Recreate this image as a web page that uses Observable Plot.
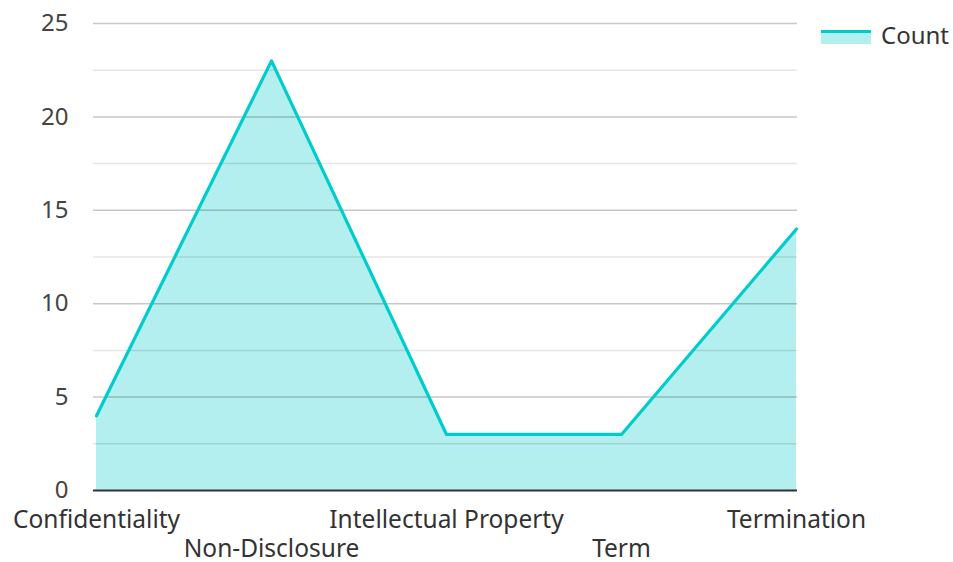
<!DOCTYPE html>
<html>
<head>
<meta charset="utf-8">
<script src="https://cdn.jsdelivr.net/npm/d3@7"></script>
<script src="https://cdn.jsdelivr.net/npm/@observablehq/plot@0.6"></script>
<style>
  html, body { margin: 0; padding: 0; background: #fff; }
  #wrap { position: relative; width: 953px; height: 562px; font-family: "Noto Sans", sans-serif; }
  #legend { position: absolute; left: 821px; top: 18px; display: flex; align-items: center; font-size: 24px; color: #333; }
  #legend .sw { width: 50px; height: 14px; background: #b2efee; border-top: 3px solid #00cccc; box-sizing: border-box; margin-right: 10px; margin-top: 4px; }
</style>
</head>
<body>
<div id="wrap">
  <div id="chart"></div>
  <div id="legend"><div class="sw"></div><span>Count</span></div>
</div>
<script>
const categories = ["Confidentiality", "Non-Disclosure", "Intellectual Property", "Term", "Termination"];
const counts = [4, 23, 3, 3, 14];
const yTicks = [0, 5, 10, 15, 20, 25];
const yMinorTicks = [2.5, 7.5, 12.5, 17.5, 22.5];

const data = categories.map((c, i) => ({category: c, count: counts[i]}));
const evenCats = categories.filter((d, i) => i % 2 === 0);
const oddCats = categories.filter((d, i) => i % 2 === 1);

const chart = Plot.plot({
  width: 953,
  height: 562,
  marginLeft: 95,
  marginRight: 157,
  marginTop: 23,
  marginBottom: 72,
  style: {fontFamily: "Noto Sans, sans-serif", fontSize: "24px", color: "#444", background: "#fff", overflow: "visible"},
  x: {type: "point", domain: categories, padding: 0},
  y: {domain: [0, 25]},
  marks: [
    Plot.areaY(data, {x: "category", y: "count", fill: "#b2efee"}),
    Plot.ruleY(yMinorTicks, {stroke: "#000", strokeOpacity: 0.1, strokeWidth: 1.5, insetLeft: -2, insetRight: -1}),
    Plot.ruleY(yTicks.filter(d => d > 0), {stroke: "#000", strokeOpacity: 0.22, strokeWidth: 1.5, insetLeft: -2, insetRight: -1}),
    Plot.lineY(data, {x: "category", y: "count", stroke: "#00cccc", strokeWidth: 3.2}),
    Plot.ruleY([0], {stroke: "#333", strokeWidth: 2, insetLeft: -2, insetRight: -1}),
    Plot.axisY({ticks: yTicks, tickSize: 0, tickPadding: 27, label: null, fill: "#444", fontSize: 24}),
    Plot.axisX(evenCats, {tickSize: 0, tickPadding: 20, label: null, fill: "#333", fontSize: 24.5}),
    Plot.axisX(oddCats, {tickSize: 0, tickPadding: 49, label: null, fill: "#333", fontSize: 24.5})
  ]
});
document.getElementById("chart").appendChild(chart);
</script>
</body>
</html>
